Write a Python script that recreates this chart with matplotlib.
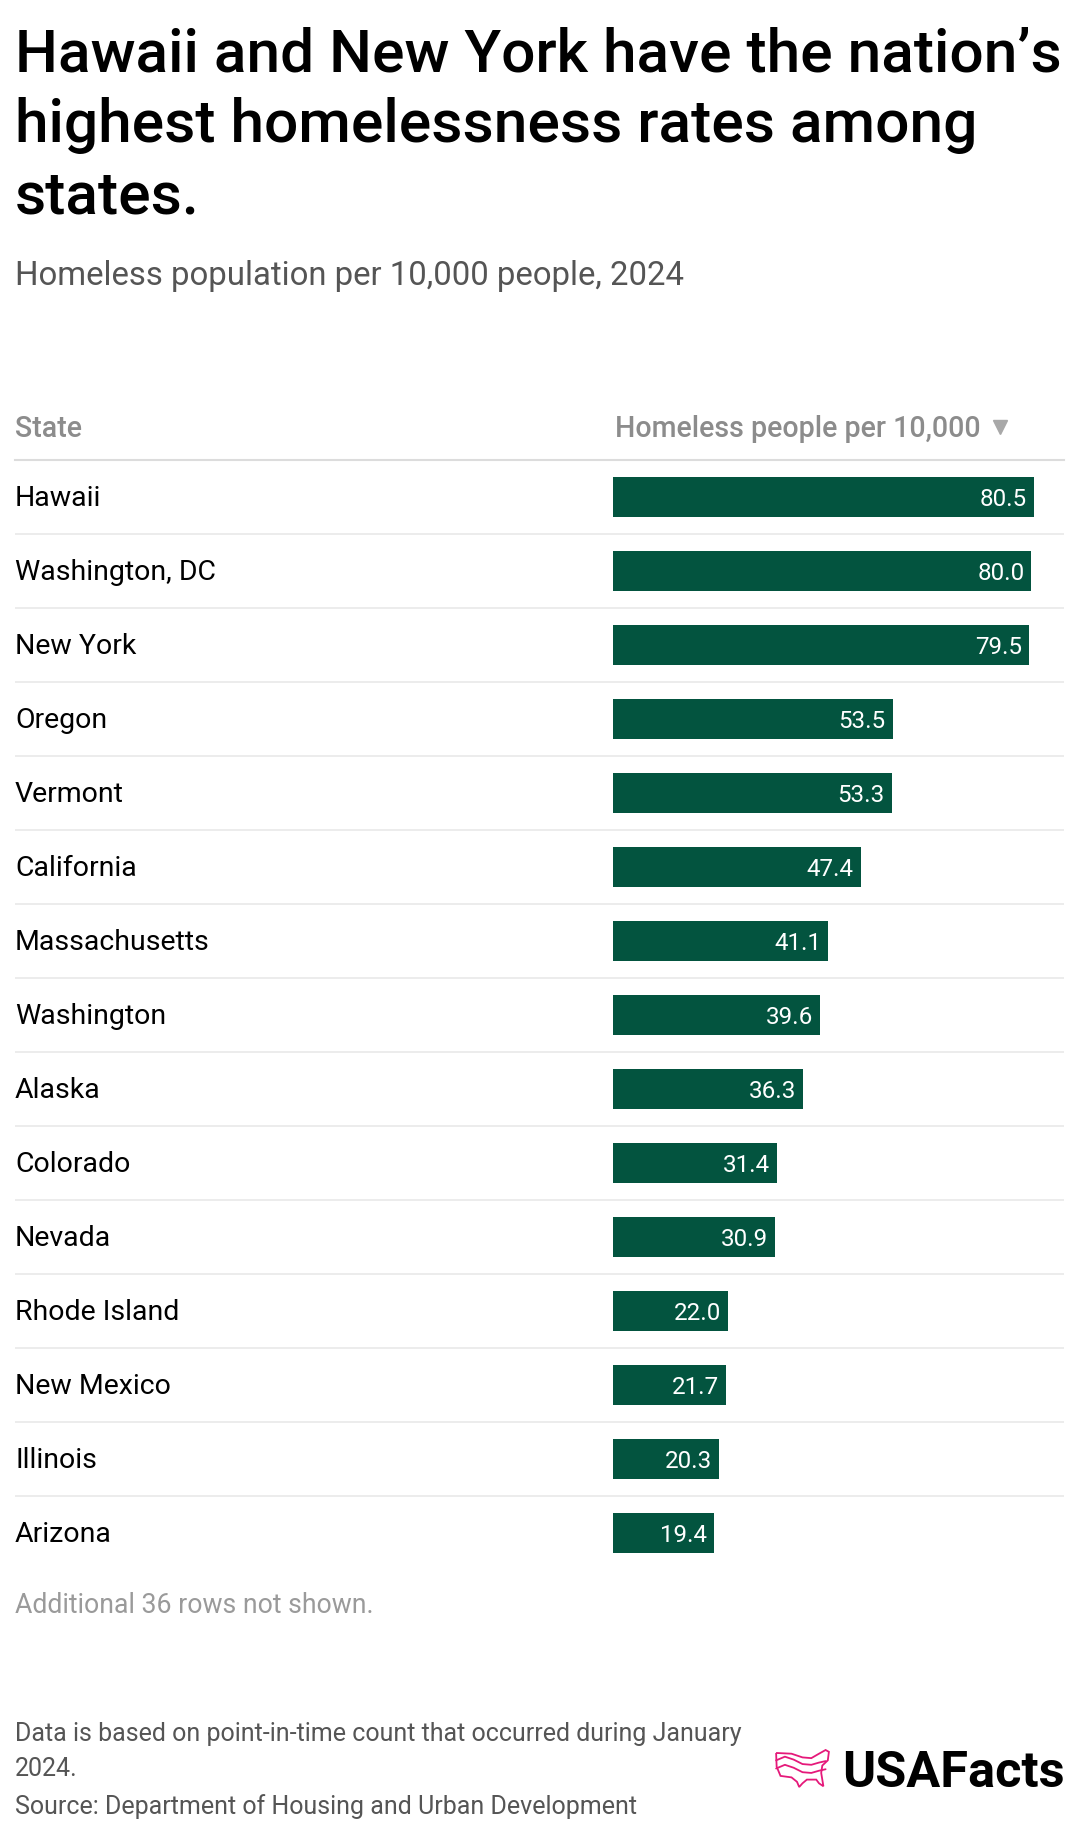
import matplotlib
matplotlib.use('Agg')
import matplotlib.pyplot as plt
from matplotlib.path import Path
from matplotlib.patches import PathPatch

# ---------------- data ----------------
states = ["Hawaii", "Washington, DC", "New York", "Oregon", "Vermont", "California",
          "Massachusetts", "Washington", "Alaska", "Colorado", "Nevada", "Rhode Island",
          "New Mexico", "Illinois", "Arizona"]
values = [80.5, 80.0, 79.5, 53.5, 53.3, 47.4, 41.1, 39.6, 36.3, 31.4, 30.9, 22.0, 21.7, 20.3, 19.4]

title_lines = ["Hawaii and New York have the nation\u2019s",
               "highest homelessness rates among",
               "states."]
subtitle = "Homeless population per 10,000 people, 2024"
col_state = "State"
col_value = "Homeless people per 10,000"
note = "Additional 36 rows not shown."
footer1 = "Data is based on point-in-time count that occurred during January"
footer2 = "2024."
footer3 = "Source: Department of Housing and Urban Development"
brand = "USAFacts"

# ---------------- figure ----------------
W, H = 1080, 1838
fig = plt.figure(figsize=(W / 100, H / 100), dpi=100)
fig.patch.set_facecolor('white')
bg = fig.add_axes([0, 0, 1, 1])
bg.set_xlim(0, W)
bg.set_ylim(H, 0)
bg.axis('off')

FONT = ['Roboto', 'DejaVu Sans']
renderer = fig.canvas.get_renderer()


def text_width(s, size, weight='normal'):
    t = bg.text(0, 0, s, fontsize=size, fontweight=weight, family=FONT)
    w = t.get_window_extent(renderer).width
    t.remove()
    return w


def fit_size(s, target_w, weight='normal', base=20):
    return base * target_w / text_width(s, base, weight)


def txt(x, y, s, size, color='black', weight='normal', ha='left', va='baseline'):
    return bg.text(x, y, s, fontsize=size, color=color, fontweight=weight,
                   ha=ha, va=va, family=FONT)


# title
ts = fit_size(title_lines[0], 1046, 'medium')
for line, yb in zip(title_lines, [71, 142, 213]):
    txt(15, yb, line, ts, color='#000000', weight='medium')

# subtitle
txt(15, 285, subtitle, fit_size(subtitle, 668), color='#555555')

# column headers
hs = fit_size(col_value, 367, 'medium')
txt(15, 437, col_state, hs, color='#8c8c8c', weight='medium')
txt(615, 437, col_value, hs, color='#8c8c8c', weight='medium')
bg.plot([1000], [427], marker='v', color='#a8a8a8', markersize=9.5, linestyle='none')

# ---------------- bar table ----------------
n = len(states)
row_h = 74.0
top = 460.0
bottom = top + n * row_h
x0_px, x1_px, bar0_px = 15.0, 1064.0, 613.0
ppu = (1034.0 - bar0_px) / 80.5

ax = fig.add_axes([x0_px / W, (H - bottom) / H, (x1_px - x0_px) / W, (bottom - top) / H])
ax.set_xlim(-(bar0_px - x0_px) / ppu, (x1_px - bar0_px) / ppu)
ax.set_ylim(n - 0.5, -0.5)
ax.axis('off')

ax.axhline(-0.5, color='#dcdcdc', lw=1.5, clip_on=False, zorder=1)
for i in range(n - 1):
    ax.axhline(i + 0.5, color='#ececec', lw=1.4, zorder=1)

ax.barh(range(n), values, height=40 / row_h, left=0, color='#03543f', zorder=2)

rs = fit_size("Massachusetts", 194)
vs = fit_size("80.5", 47)
xl = ax.get_xlim()[0]
for i, (s, v) in enumerate(zip(states, values)):
    ax.text(xl, i + 9 / row_h, s, fontsize=rs, color='#000000', family=FONT,
            ha='left', va='baseline')
    ax.annotate(f"{v:.1f}", xy=(v, i), xytext=(-7, 0), textcoords='offset pixels',
                ha='right', va='center_baseline', color='white', fontsize=vs,
                family=FONT, zorder=3)

# note
txt(15, 1613, note, fit_size(note, 358), color='#9a9a9a')

# footer
fs = fit_size(footer1, 725)
txt(15, 1741, footer1, fs, color='#555555')
txt(15, 1776, footer2, fs, color='#555555')
txt(15, 1814, footer3, fs, color='#555555')

# brand logo
txt(842, 1787, brand, fit_size(brand, 222, 'bold'), color='black', weight='bold')

# stylised map icon (decoration)
ix0, iy0, iw, ih = 775.0, 1750.0, 55.0, 37.0
pink = '#e5197a'
outline = [(0.02, 0.08), (0.30, 0.10), (0.50, 0.20), (0.66, 0.22), (0.80, 0.10),
           (0.92, 0.00), (0.98, 0.05), (0.96, 0.28), (0.86, 0.42), (0.84, 0.62),
           (0.88, 0.98), (0.80, 0.90), (0.75, 0.80), (0.58, 0.80), (0.50, 0.90),
           (0.44, 1.00), (0.40, 0.86), (0.30, 0.74), (0.10, 0.70), (0.03, 0.45),
           (0.02, 0.08)]
pts = [(ix0 + u * iw, iy0 + v * ih) for u, v in outline]
bg.add_patch(PathPatch(Path(pts), facecolor='none', edgecolor=pink, lw=1.3))
for off in (0.28, 0.50):
    wave_u = [0.02, 0.18, 0.34, 0.50, 0.66, 0.80, 0.92]
    wave_v = [off, off - 0.10, off - 0.02, off + 0.10, off + 0.12, off + 0.06, off + 0.02]
    bg.plot([ix0 + u * iw for u in wave_u], [iy0 + v * ih for v in wave_v],
            color=pink, lw=1.3, solid_capstyle='round')

fig.savefig('out.png', dpi=100, facecolor='white')
